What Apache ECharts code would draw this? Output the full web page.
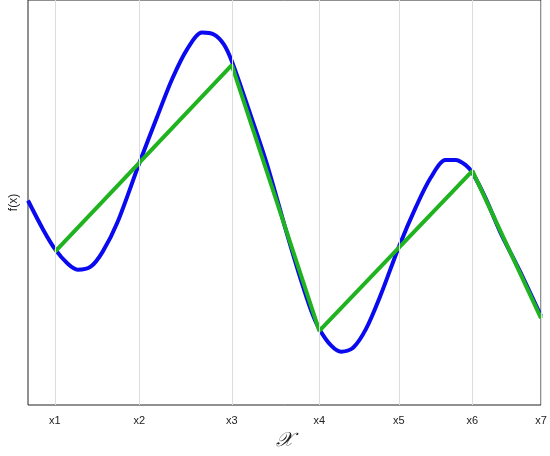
<!DOCTYPE html>
<html><head><meta charset="utf-8">
<script src="https://cdn.jsdelivr.net/npm/echarts@6/dist/echarts.min.js"></script>
<style>html,body{margin:0;padding:0;background:#fff}#c{width:550px;height:456px}</style>
</head><body><div id="c"></div>
<script>
const tickLabels = ['x1','x2','x3','x4','x5','x6','x7'];
const tickPos = [27,112,205,293,373,447,516];
const curveX = [0,15,27,40,50,63,75,90,112,130,145,160,175,187,197,205,220,240,260,275,285,293,305,315,327,340,355,373,390,405,420,430,440,447,460,475,495,516];
const curveY = [207,178,158,143,137,140,155,185,245,292,330,360,377,375,365,348,305,245,175,125,95,77,60,54,58,77,112,160,200,230,248,248,243,235,210,175,135,90];
const lineX = [27,205,293,447,516];
const lineY = [155,344,75,237,88];
const chart = echarts.init(document.getElementById('c'));
chart.setOption({
  animation:false,
  grid:{left:25,right:9,top:0,bottom:46,show:true,borderColor:'#222',borderWidth:1},
  xAxis:{type:'value',min:0,max:516,axisLabel:{show:false},axisTick:{show:false},splitLine:{show:false},
    axisLine:{show:false},name:'𝒳',nameLocation:'middle',nameGap:26,nameTextStyle:{fontSize:20,fontStyle:'italic',color:'#222',fontFamily:'DejaVu Serif'}},
  yAxis:{type:'value',min:0,max:410,axisLabel:{show:false},axisTick:{show:false},splitLine:{show:false},axisLine:{show:false},
    name:'f(x)',nameLocation:'middle',nameGap:8,nameTextStyle:{fontSize:12,color:'#222',fontFamily:'Helvetica, Arial, sans-serif'}},
  series:[
    {type:'line',data:tickPos.map(p=>[p,0]),symbol:'none',lineStyle:{width:0},silent:true,
     markLine:{symbol:'none',silent:true,animation:false,lineStyle:{color:'#ddd',width:1,type:'solid'},
      label:{position:'start',distance:10,color:'#222',fontSize:11,formatter:p=>p.name},
      data:tickPos.map((p,i)=>[{coord:[p,0],name:tickLabels[i]},{coord:[p,410]}])}},
    {type:'line',data:curveX.map((x,i)=>[x,curveY[i]]),smooth:0.3,symbol:'none',lineStyle:{color:'#0a0af0',width:4}},
    {type:'line',data:lineX.map((x,i)=>[x,lineY[i]]),symbol:'none',lineStyle:{color:'#1fb31f',width:4}}
  ]
});
</script></body></html>
